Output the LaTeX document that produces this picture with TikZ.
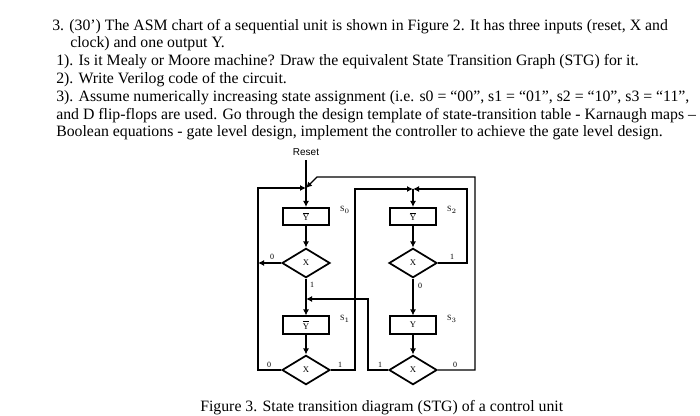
\documentclass[tikz,border=0pt]{standalone}
\usetikzlibrary{shapes.geometric,arrows.meta}
\usepackage{fontspec}
\setmainfont{Liberation Serif}
\setsansfont{Liberation Sans}
\begin{document}
\begin{tikzpicture}[x=0.75pt,y=-0.75pt,
  txt/.style={anchor=west,inner sep=0pt,font=\fontsize{11.85}{13}\selectfont},
  sbox/.style={draw,line width=1.3pt,minimum width=35pt,minimum height=13pt,inner sep=0pt,font=\fontsize{6.5}{7}\selectfont},
  dia/.style={draw,line width=1.3pt,diamond,minimum width=36pt,minimum height=22pt,inner sep=0pt,font=\fontsize{6.5}{7}\selectfont},
  ln/.style={draw,line width=0.9pt},
  arr/.style={ln,-{Latex[length=4.5pt,width=4.5pt]}},
  lab/.style={font=\fontsize{6}{6}\selectfont,inner sep=1pt}]
\useasboundingbox (0,0) rectangle (700,416);
\node[txt] (l1) at (52,27) {3. (30') The ASM chart of a sequential unit is shown in Figure 2. It has three inputs (reset, X and};
\node[txt] (l2) at (70,44) {clock) and one output Y.};
\node[txt] (l3) at (56,62) {1). Is it Mealy or Moore machine? Draw the equivalent State Transition Graph (STG) for it.};
\node[txt] (l4) at (56,80) {2). Write Verilog code of the circuit.};
\node[txt] (l5) at (56,98) {3). Assume numerically increasing state assignment (i.e. s0 = ``00'', s1 = ``01'', s2 = ``10'', s3 = ``11'',};
\node[txt] (l6) at (56,116) {and D flip-flops are used. Go through the design template of state-transition table - Karnaugh maps –};
\node[txt] (l7) at (56,133) {Boolean equations - gate level design, implement the controller to achieve the gate level design.};
\node[font=\sffamily\fontsize{7.5}{8}\selectfont] (rst) at (306,152) {Reset};
\node[txt] (cap) at (200,408) {Figure 3. State transition diagram (STG) of a control unit};
% left column
\coordinate (j0) at (306,188);
\node[sbox] (s0) at (306,216.5) {$\overline{\mathrm{Y}}$};
\node[dia] (d0) at (306,263) {X};
\coordinate (j1) at (306,299);
\node[sbox] (s1) at (306,325) {$\overline{\mathrm{Y}}$};
\node[dia] (d1) at (306,370) {X};
% right column
\coordinate (j2) at (413,189);
\node[sbox] (s2) at (413,216.5) {$\overline{\mathrm{Y}}$};
\node[dia] (d2) at (413,263) {X};
\node[sbox] (s3) at (413,325) {Y};
\node[dia] (d3) at (413,370) {X};
\node[lab] at (345,210) {S$_0$};
\node[lab] at (345,319) {S$_1$};
\node[lab] at (452,210) {S$_2$};
\node[lab] at (452,319) {S$_3$};
\draw[arr] (rst.south) -- (j0) -- (s0);
\draw[arr] (s0) -- (d0);
\draw[ln] (d0.south) -- (j1);
\draw[arr] (j1) -- (s1);
\draw[arr] (s1) -- (d1);
\draw[arr] (d0.west) -- (258,263);
\draw[arr] (d1.west) -- (258,370) -- (258,188) -- (j0);
\draw[arr] (d1.east) -- (355,370) -- (355,189) -- (j2);
\draw[arr] (j2) -- (s2);
\draw[arr] (s2) -- (d2);
\draw[arr] (d2.south) -- (s3);
\draw[arr] (s3) -- (d3);
\draw[arr] (d2.east) -- (467,263) -- (467,189) -- (j2);
\draw[arr] (d3.west) -- (368,370) -- (368,299) -- (j1);
\draw[arr] (d3.east) -- (475,370) -- (475,177) -- (317,177) -- (j0);
\node[lab] at (272,257) {0};
\node[lab] at (312,285) {1};
\node[lab] at (452,257) {1};
\node[lab] at (420,286) {0};
\node[lab] at (269,365) {0};
\node[lab] at (340,365) {1};
\node[lab] at (380,365) {1};
\node[lab] at (455,365) {0};
\end{tikzpicture}
\end{document}
